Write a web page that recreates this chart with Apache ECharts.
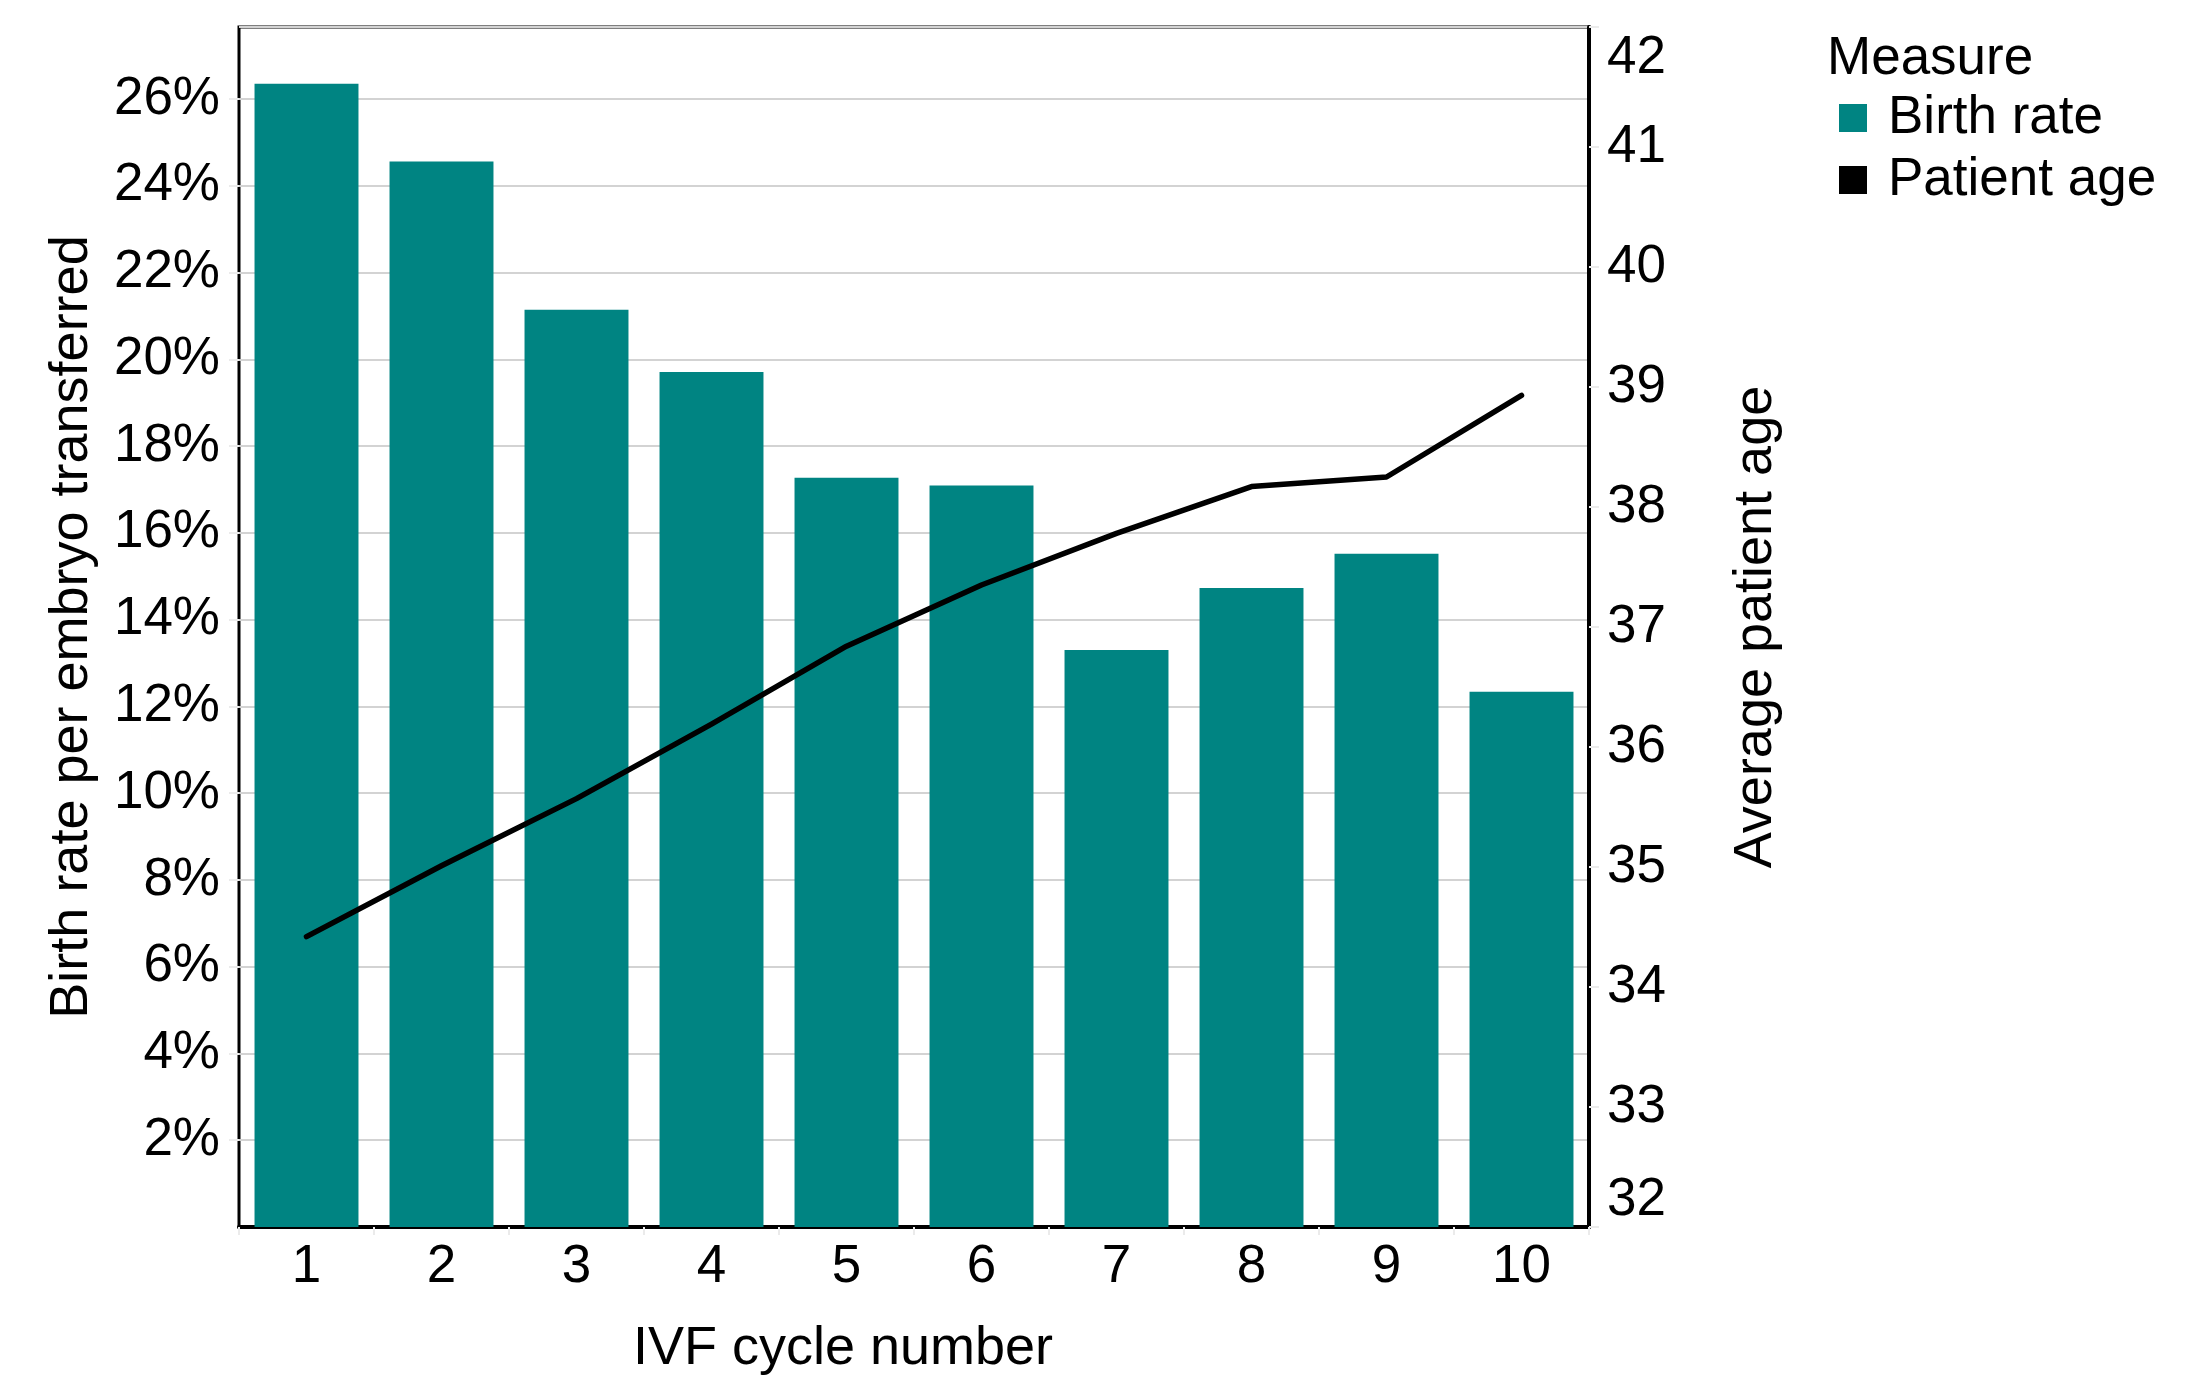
<!DOCTYPE html>
<html>
<head>
<meta charset="utf-8">
<style>
  html, body { margin: 0; padding: 0; background: #ffffff; }
  #chart { width: 2200px; height: 1400px; }
</style>
<script src="https://cdn.jsdelivr.net/npm/echarts@6/dist/echarts.min.js"></script>
</head>
<body>
<div id="chart"></div>
<script>
// ---- data ----
var cycles = ['1', '2', '3', '4', '5', '6', '7', '8', '9', '10'];
var birthRate = [26.35, 24.56, 21.14, 19.71, 17.27, 17.09, 13.30, 14.73, 15.52, 12.34];
var patientAge = [34.42, 35.01, 35.57, 36.19, 36.84, 37.35, 37.78, 38.17, 38.25, 38.93];
var legendTitle = 'Measure';
var seriesNames = ['Birth rate', 'Patient age'];

var FONT = '"Liberation Sans", Arial, sans-serif';
var TEAL = '#008482';
var GRID = '#d3d3d3';
var TICK = '#ebebeb';

var chart = echarts.init(document.getElementById('chart'), null, { renderer: 'canvas' });

chart.setOption({
  animation: false,
  backgroundColor: '#ffffff',
  textStyle: { fontFamily: FONT, color: '#000' },
  title: {
    text: legendTitle,
    left: 1827,
    top: 28,
    padding: 0,
    textStyle: { fontFamily: FONT, fontSize: 53, fontWeight: 'normal', color: '#000', lineHeight: 62 }
  },
  legend: {
    orient: 'vertical',
    left: 1839,
    top: 87,
    padding: 0,
    itemGap: 0,
    itemWidth: 28,
    itemHeight: 28,
    data: [
      { name: seriesNames[0], icon: 'rect' },
      { name: seriesNames[1], icon: 'rect', itemStyle: { color: '#000' } }
    ],
    textStyle: { fontFamily: FONT, fontSize: 53, color: '#000', lineHeight: 56, padding: [6, 0, 0, 16] }
  },
  grid: {
    left: 239,
    top: 27,
    width: 1350,
    height: 1200,
    containLabel: false,
    outerBoundsMode: 'none',
    show: true,
    borderColor: '#000',
    borderWidth: 3,
    backgroundColor: 'transparent'
  },
  xAxis: {
    type: 'category',
    data: cycles,
    boundaryGap: true,
    name: 'IVF cycle number',
    nameLocation: 'middle',
    nameGap: 95,
    nameTextStyle: { fontFamily: FONT, fontSize: 54, color: '#000', padding: [0, 142, 0, 0] },
    axisLine: { show: true, lineStyle: { color: '#000', width: 4 } },
    axisTick: { show: true, alignWithLabel: false, length: 8, lineStyle: { color: TICK, width: 2 } },
    axisLabel: { fontFamily: FONT, fontSize: 53, color: '#000', margin: 14 },
    splitLine: { show: false }
  },
  yAxis: [
    {
      type: 'value',
      position: 'left',
      min: 0,
      max: 27.66,
      interval: 2,
      name: 'Birth rate per embryo transferred',
      nameLocation: 'middle',
      nameRotate: 90,
      nameGap: 140,
      nameTextStyle: { fontFamily: FONT, fontSize: 54, color: '#000' },
      axisLine: { show: false },
      axisTick: { show: true, length: 10, lineStyle: { color: TICK, width: 2 } },
      axisLabel: {
        fontFamily: FONT, fontSize: 53, color: '#000', margin: 19,
        showMinLabel: false, showMaxLabel: false,
        padding: [5, 0, 0, 0],
        formatter: '{value}%'
      },
      splitLine: { show: true, lineStyle: { color: GRID, width: 2 } }
    },
    {
      type: 'value',
      position: 'right',
      min: 32,
      max: 42,
      interval: 1,
      name: 'Average patient age',
      nameLocation: 'middle',
      nameRotate: 90,
      nameGap: 140,
      nameTextStyle: { fontFamily: FONT, fontSize: 54, color: '#000' },
      axisLine: { show: true, lineStyle: { color: '#000', width: 4 } },
      axisTick: { show: true, length: 10, lineStyle: { color: TICK, width: 2 } },
      axisLabel: {
        fontFamily: FONT, fontSize: 53, color: '#000', margin: 18,
        padding: [5, 0, 0, 0],
        verticalAlignMinLabel: 'bottom',
        verticalAlignMaxLabel: 'top'
      },
      splitLine: { show: false }
    }
  ],
  series: [
    {
      name: seriesNames[0],
      type: 'bar',
      yAxisIndex: 0,
      data: birthRate,
      barCategoryGap: '23%',
      itemStyle: { color: TEAL },
      z: 2
    },
    {
      name: seriesNames[1],
      type: 'line',
      yAxisIndex: 1,
      data: patientAge,
      symbol: 'none',
      showSymbol: false,
      itemStyle: { color: '#000' },
      lineStyle: { color: '#000', width: 5.5, cap: 'round', join: 'round' },
      z: 3
    }
  ]
});
</script>
</body>
</html>
